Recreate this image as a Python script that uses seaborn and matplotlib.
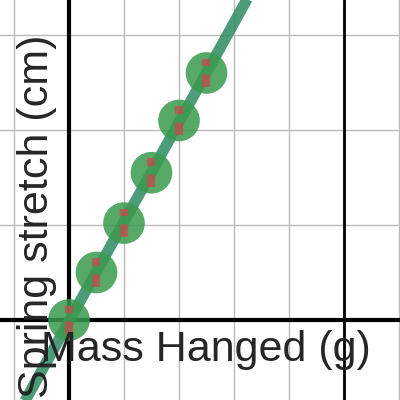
import numpy as np
import matplotlib
matplotlib.use("Agg")
import matplotlib.pyplot as plt
import seaborn as sns
import pandas as pd

mass = [0, 25, 50, 75, 100, 125]
stretch = [0.0, 0.5, 1.02, 1.55, 2.1, 2.6]
err = [0.15] * 6
xgrid = [-50, 0, 50, 100, 150, 200, 250, 300]
ygrid = [0, 1, 2, 3]

sns.set_theme(style="white")
plt.rcParams['font.family'] = ['Liberation Sans', 'DejaVu Sans']
fig = plt.figure(figsize=(4, 4), dpi=100)
ax = fig.add_axes([0, 0, 1, 1])
xmin, xmax = -62.7, 300.9
ymin, ymax = -0.842, 3.368
ax.set_xlim(xmin, xmax); ax.set_ylim(ymin, ymax)
for g in xgrid:
    ax.axvline(g, color="#bbbbbb", lw=1, zorder=0)
for g in ygrid:
    ax.axhline(g, color="#bbbbbb", lw=1, zorder=0)
ax.axvline(0, color="black", lw=3, zorder=1)
ax.axhline(0, color="black", lw=3, zorder=1)
ax.axvline(250, color="black", lw=2, zorder=1)

df = pd.DataFrame({"mass": mass, "stretch": stretch})
k, b = np.polyfit(mass, stretch, 1)
xs = np.array([xmin, xmax])
ax.plot(xs, k * xs + b, color="#2e8b62", lw=8, alpha=0.85, zorder=2, solid_capstyle="butt")
sns.scatterplot(data=df, x="mass", y="stretch", ax=ax, s=900, color="#3a9a4e",
                alpha=0.85, edgecolor="none", zorder=3, legend=False)
eb = ax.errorbar(mass, stretch, yerr=err, fmt="none", ecolor="#c0504d", elinewidth=6,
                 alpha=0.8, zorder=4)
for lc in eb[2]:
    lc.set_linestyle((0, (1.5, 1)))
ax.set_xticks([]); ax.set_yticks([])
ax.set_xlabel(""); ax.set_ylabel("")
for s in ax.spines.values():
    s.set_visible(False)
fig.text(206/400, 1 - 350/400, "Mass Hanged (g)", fontsize=31, ha="center", va="center", zorder=10)
fig.text(37/400, 1 - 35/400, "Spring stretch (cm)", fontsize=31, rotation=90, ha="center", va="top")
fig.savefig("out.png", dpi=100)
